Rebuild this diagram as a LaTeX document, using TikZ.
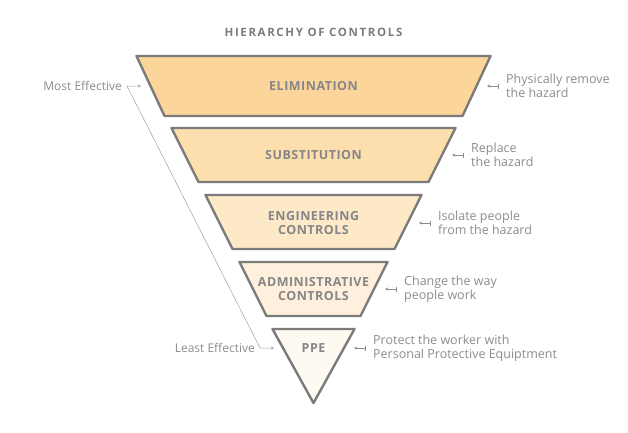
\documentclass[tikz,border=0pt]{standalone}
\usepackage{fontspec}
\setmainfont{Open Sans}
\newfontfamily\capsfont{Open Sans}[LetterSpace=4]
\newfontfamily\titlefont{Open Sans}[LetterSpace=14]
\usetikzlibrary{arrows.meta}
\definecolor{edgegray}{RGB}{123,123,123}
\definecolor{labelgray}{RGB}{134,134,136}
\definecolor{notegray}{RGB}{140,140,140}
\definecolor{linegray}{RGB}{160,160,160}
\definecolor{elimfill}{RGB}{251,213,154}
\definecolor{substfill}{RGB}{252,223,173}
\definecolor{engfill}{RGB}{253,232,199}
\definecolor{adminfill}{RGB}{254,240,220}
\definecolor{ppefill}{RGB}{254,249,241}

\begin{document}
\begin{tikzpicture}[x=1pt, y=-1pt,
  level/.style={draw=edgegray, line width=2.4pt, line join=round},
  lvltext/.style={font=\capsfont\bfseries\fontsize{12.5}{14}\selectfont,
                  text=labelgray, align=center},
  note/.style={anchor=west, align=left, inner xsep=7pt, inner ysep=0pt,
               text=notegray, font=\fontsize{12.5}{14}\selectfont},
  side/.style={anchor=east, inner xsep=5pt, inner ysep=0pt,
               text=notegray, font=\fontsize{12}{14}\selectfont},
  notearr/.style={{Bar[width=5pt]}-{Stealth[length=3pt,width=3pt]},
                  draw=notegray, line width=0.6pt},
  effarr/.style={{Stealth[length=3pt,width=3pt]}-{Stealth[length=3pt,width=3pt]},
                 draw=linegray, line width=0.5pt}
]
\useasboundingbox (0,0) rectangle (628,432);

% title
\node[font=\titlefont\bfseries\fontsize{11.5}{13}\selectfont, text=edgegray] (title)
  at (313.5,32) {HIERARCHY OF CONTROLS};

% levels
\draw[level, fill=elimfill]  (136.5,56) -- (490.5,56) -- (462.5,116) -- (164.5,116) -- cycle;
\draw[level, fill=substfill] (171.5,128) -- (455.5,128) -- (428.5,182) -- (198.5,182) -- cycle;
\draw[level, fill=engfill]   (205.5,195) -- (421.5,195) -- (394.5,249) -- (232.5,249) -- cycle;
\draw[level, fill=adminfill] (239.5,262) -- (387.5,262) -- (360.5,316) -- (266.5,316) -- cycle;
\draw[level, fill=ppefill]   (272.5,329) -- (354.5,329) -- (313.5,403) -- cycle;

\node[lvltext] (elim)  at (313.5,86)  {ELIMINATION};
\node[lvltext] (subst) at (313.5,155) {SUBSTITUTION};
\node[lvltext] (eng)   at (313.5,223) {ENGINEERING\\CONTROLS};
\node[lvltext] (admin) at (313.5,289) {ADMINISTRATIVE\\CONTROLS};
\node[lvltext] (ppe)   at (313.5,348) {PPE};

% notes on the right
\node[note] (elimnote)  at (499,86)  {Physically remove\\the hazard};
\node[note] (substnote) at (464,155) {Replace\\the hazard};
\node[note] (engnote)   at (431,223) {Isolate people\\from the hazard};
\node[note] (adminnote) at (397,289) {Change the way\\people work};
\node[note] (ppenote)   at (366,348) {Protect the worker with\\Personal Protective Equiptment};

\coordinate (elimtip)  at (487,86);
\coordinate (substtip) at (452,155);
\coordinate (engtip)   at (419,223);
\coordinate (admintip) at (385,289);
\coordinate (ppetip)   at (354,348);

\draw[notearr] (elimnote.west)  -- (elimtip);
\draw[notearr] (substnote.west) -- (substtip);
\draw[notearr] (engnote.west)   -- (engtip);
\draw[notearr] (adminnote.west) -- (admintip);
\draw[notearr] (ppenote.west)   -- (ppetip);

% effectiveness scale
\node[side] (most)  at (127,86)  {Most Effective};
\node[side] (least) at (260,348) {Least Effective};
\coordinate (mosttip)  at (141,86);
\coordinate (leasttip) at (274,348);
\draw[effarr] (mosttip) -- (most.east) -- (least.east) -- (leasttip);
\end{tikzpicture}
\end{document}
